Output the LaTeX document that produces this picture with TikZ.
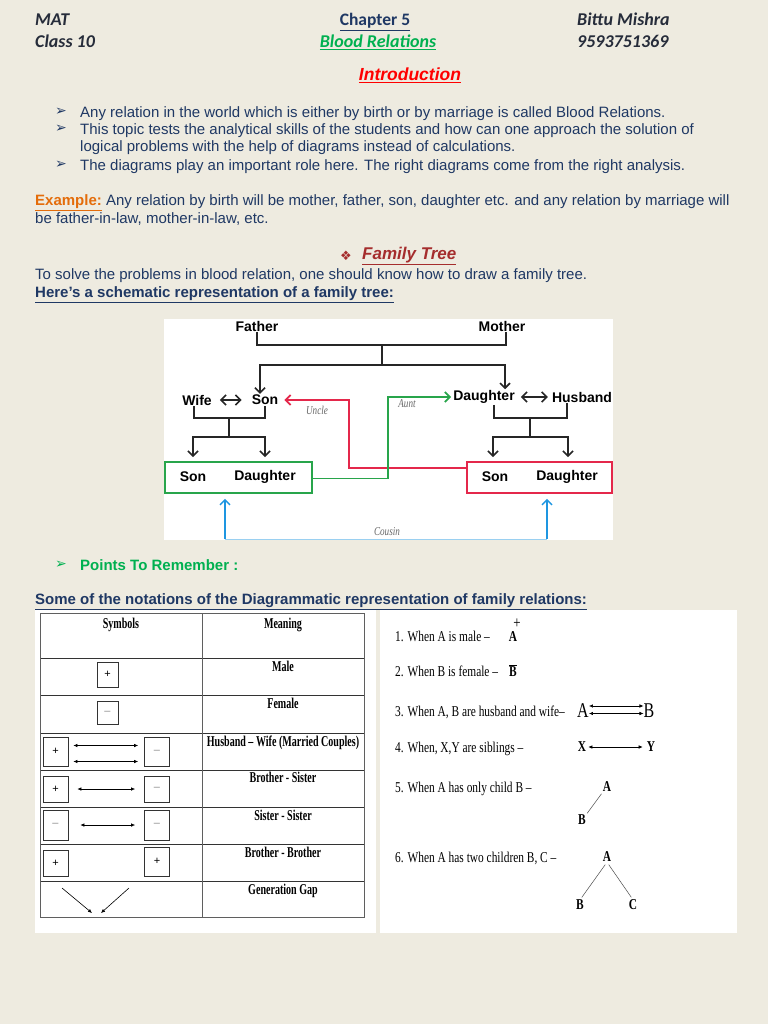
\documentclass[tikz,border=0pt]{standalone}
\usepackage{fontspec}
\usepackage{xcolor}
\usepackage{tikz}
\usetikzlibrary{arrows.meta,positioning,calc}
\setmainfont{Liberation Sans}
\newfontfamily\hdfont{Carlito}
\newfontfamily\tabfont[FakeStretch=0.67]{Liberation Serif}
\newfontfamily\notefont[FakeStretch=0.76]{Liberation Serif}
\newfontfamily\symfont{DejaVu Sans}
\definecolor{pagebg}{RGB}{238,235,224}
\definecolor{navy}{RGB}{31,56,100}
\definecolor{inkgrey}{RGB}{38,44,58}
\definecolor{leafgreen}{RGB}{0,176,80}
\definecolor{hotred}{RGB}{255,0,0}
\definecolor{exorange}{RGB}{228,108,10}
\definecolor{treered}{RGB}{165,45,45}
\definecolor{boxgreen}{RGB}{40,165,75}
\definecolor{boxred}{RGB}{228,40,75}
\definecolor{cousinblue}{RGB}{30,150,225}
\definecolor{gridgrey}{RGB}{95,95,95}
\tikzset{
  hd/.style={anchor=mid west,inner sep=0,yshift=-3pt,text=inkgrey,
             font=\hdfont\bfseries\itshape\fontsize{18}{20}\selectfont},
  body/.style={anchor=mid west,inner sep=0,yshift=-3pt,text=navy,font=\fontsize{15}{17}\selectfont},
  bodyb/.style={body,font=\bfseries\fontsize{15}{17}\selectfont},
  bulletmk/.style={inner sep=0,text=navy,font=\symfont\fontsize{14}{14}\selectfont},
  tname/.style={inner sep=1pt,font=\bfseries\fontsize{14}{16}\selectfont},
  tline/.style={line width=1.6pt,draw=black!85},
  tarr/.style={tline,-{Straight Barb[length=5pt,width=10pt]}},
  tdbl/.style={tline,{Straight Barb[length=5pt,width=10pt]}-{Straight Barb[length=5pt,width=10pt]}},
  kinbox/.style={line width=1.8pt,minimum height=31pt},
  kinarr/.style={line width=1.8pt,-{Straight Barb[length=5pt,width=10pt]}},
  rel/.style={inner sep=0,text=black!60,font=\notefont\itshape\fontsize{12}{14}\selectfont},
  tabtxt/.style={inner sep=0,anchor=mid,yshift=-3pt,font=\tabfont\bfseries\fontsize{15}{17}\selectfont},
  symbox/.style={draw=black!80,line width=0.7pt,inner sep=0,minimum width=25pt,
                 font=\fontsize{11}{11}\selectfont},
  smarr/.style={line width=0.6pt,{Latex[length=4pt,width=3.5pt]}-{Latex[length=4pt,width=3.5pt]}},
  note/.style={anchor=mid west,inner sep=0,yshift=-3pt,font=\notefont\fontsize{15}{17}\selectfont},
  notel/.style={inner sep=0,font=\notefont\bfseries\fontsize{15}{17}\selectfont},
}

\begin{document}
\begin{tikzpicture}[x=1pt,y=-1pt]

  % --- page -----------------------------------------------------------------
  \fill[pagebg] (0,0) rectangle (768,1024);
  \useasboundingbox (0,0) rectangle (768,1024);
  \fill[white] (164,319) rectangle (613,540);
  \fill[white] (35,610) rectangle (376,933);
  \fill[white] (380,610) rectangle (737,933);

  % --- header ---------------------------------------------------------------
  \node[hd] (hdmat) at (35,20) {MAT};
  \node[hd] (hdcls) at (35,42) {Class 10};
  \node[hd,anchor=mid,text=navy,font=\hdfont\bfseries\fontsize{17.5}{20}\selectfont]
        (hdchap) at (375,20) {\underline{Chapter 5}};
  \node[hd,anchor=mid,text=leafgreen] (hdtopic) at (378,42) {\underline{Blood Relations}};
  \node[hd] (hdname) at (577,20) {Bittu Mishra};
  \node[hd] (hdphone) at (577,42) {9593751369};

  \node[text=hotred,inner sep=0,yshift=-1pt,font=\bfseries\itshape\fontsize{17.5}{20}\selectfont]
        (intro) at (410,74) {\underline{Introduction}};

  % --- bullets --------------------------------------------------------------
  \node[bulletmk] (mk1) at (61,112) {➢};
  \node[body] (bl1) at (80,112)
        {Any relation in the world which is either by birth or by marriage is called Blood Relations.};
  \node[bulletmk] (mk2) at (61,129) {➢};
  \node[body] (bl2) at (80,129)
        {This topic tests the analytical skills of the students and how can one approach the solution of};
  \node[body] (bl2b) at (80,146)
        {logical problems with the help of diagrams instead of calculations.};
  \node[bulletmk] (mk3) at (61,165) {➢};
  \node[body] (bl3) at (80,165)
        {The diagrams play an important role here. The right diagrams come from the right analysis.};

  \node[body] (ex1) at (35,200)
        {\textcolor{exorange}{\bfseries\underline{Example:}} Any relation by birth will be mother, father, son, daughter etc. and any relation by marriage will};
  \node[body] (ex2) at (35,218) {be father-in-law, mother-in-law, etc.};

  \node[inner sep=0,text=treered,font=\symfont\fontsize{13}{13}\selectfont] (ftstar) at (346,256) {❖};
  \node[anchor=mid west,inner sep=0,yshift=-2pt,text=treered,font=\bfseries\itshape\fontsize{17}{19}\selectfont]
        (fttitle) at (362,255) {\underline{Family Tree}};
  \node[body] (ftline) at (35,274)
        {To solve the problems in blood relation, one should know how to draw a family tree.};
  \node[bodyb] (fthere) at (35,292) {\underline{Here’s a schematic representation of a family tree:}};

  % --- family tree ----------------------------------------------------------
  \node[tname] (fa)  at (257,326) {Father};
  \node[tname] (mo)  at (502,326) {Mother};
  \node[tname] (wife) at (197,400) {Wife};
  \node[tname] (son) at (265,400) {Son};
  \node[tname] (dau) at (484,397) {Daughter};
  \node[tname] (hus) at (582,397) {Husband};

  \coordinate (ftop) at (382,345);
  \coordinate (fsplit) at (382,365);
  \draw[tline] (fa.south) |- (ftop) -| ([xshift=4pt]mo.south);
  \draw[tline] (ftop) -- (fsplit);
  \draw[tarr] (fsplit) -| ([xshift=-5pt]son.north);
  \draw[tarr] (fsplit) -| ([xshift=21pt]dau.north);
  \draw[tdbl,shorten <=7pt,shorten >=9pt] (wife.east) -- (son.west);
  \draw[tdbl,shorten <=5pt,shorten >=3pt] (dau.east) -- (hus.west);

  \node[kinbox,draw=boxgreen,minimum width=147pt] (gbox) at (238.5,477.5) {};
  \node[kinbox,draw=boxred,minimum width=145pt] (rbox) at (539.5,477.5) {};
  \node[tname] (gson) at (193,477) {Son};
  \node[tname] (gdau) at (265,477) {Daughter};
  \node[tname] (rson) at (495,477) {Son};
  \node[tname] (rdau) at (567,477) {Daughter};

  % children of son and wife
  \coordinate (lj) at (229,418);
  \coordinate (ls) at (229,437);
  \draw[tline] ([xshift=-3pt]wife.south) |- (lj) -| (son.south);
  \draw[tline] (lj) -- (ls);
  \draw[tarr,shorten >=4pt] (ls) -| (gbox.north -| gson);
  \draw[tarr,shorten >=4pt] (ls) -| (gbox.north -| gdau);
  % children of daughter and husband
  \coordinate (rj) at (530,418);
  \coordinate (rs) at (530,437);
  \draw[tline] ([xshift=10pt]dau.south) |- (rj) -| ([xshift=-15pt]hus.south);
  \draw[tline] (rj) -- (rs);
  \draw[tarr,shorten >=4pt] (rs) -| ([xshift=-2pt]rbox.north -| rson);
  \draw[tarr,shorten >=4pt] (rs) -| ([xshift=1pt]rbox.north -| rdau);

  % uncle, aunt, cousin
  \coordinate (uc) at (349,400);
  \draw[kinarr,draw=boxred,shorten >=5pt] ([yshift=9.5pt]rbox.west) -| (uc) -- (son.east);
  \coordinate (ac) at (388,397);
  \draw[kinarr,draw=boxgreen,shorten >=1pt] ([yshift=-1pt]gbox.east) -| (ac) -- (dau.west);
  \node[rel] (uncle) at (317,410) {Uncle};
  \node[rel] (aunt) at (407,404) {Aunt};
  \coordinate (cl) at (225,539);
  \coordinate (cr) at (547,539);
  \draw[cousinblue!45,line width=1pt] (cl) -- (cr);
  \draw[kinarr,draw=cousinblue,line width=1.4pt,shorten >=5pt] (cl) -- (gbox.south -| cl);
  \draw[kinarr,draw=cousinblue,line width=1.4pt,shorten >=5pt] (cr) -- (rbox.south -| cr);
  \node[rel] (cousin) at (387,532) {Cousin};

  % --- points to remember ---------------------------------------------------
  \node[bulletmk,text=leafgreen] (mk4) at (61,565) {➢};
  \node[bodyb,text=leafgreen] (ptr) at (80,565) {Points To Remember :};
  \node[bodyb] (notes) at (35,599)
        {\underline{Some of the notations of the Diagrammatic representation of family relations:}};

  % --- symbol table ---------------------------------------------------------
  \foreach \yy in {658,695,733,770,807,844,881}
    \draw[black!80,line width=0.9pt] (40,\yy) -- (364,\yy);
  \draw[gridgrey,line width=0.8pt] (202,613) -- (202,917);
  \draw[gridgrey,line width=1pt] (40,613) rectangle (364,917);

  \node[tabtxt] (hsym) at (121,623) {Symbols};
  \node[tabtxt] (hmean) at (283,623) {Meaning};
  \node[tabtxt] (tmale) at (283,666) {Male};
  \node[tabtxt] (tfem) at (283,703) {Female};
  \node[tabtxt] (thw) at (283,741) {Husband – Wife (Married Couples)};
  \node[tabtxt] (tbs) at (283,777) {Brother - Sister};
  \node[tabtxt] (tss) at (283,815) {Sister - Sister};
  \node[tabtxt] (tbb) at (283,852) {Brother - Brother};
  \node[tabtxt] (tgg) at (283,889) {Generation Gap};

  \node[symbox,minimum width=21pt,minimum height=25pt] (s2) at (107.5,674.5) {+};
  \node[symbox,minimum width=21pt,minimum height=23pt,text=black!45] (s3) at (107.5,712.5) {–};
  \node[symbox,minimum height=29pt] (s41) at (55.5,751.5) {+};
  \node[symbox,minimum height=29pt,text=black!45] (s42) at (157,751.5) {–};
  \node[symbox,minimum height=26pt] (s51) at (55.5,789) {+};
  \node[symbox,minimum height=26pt,text=black!45] (s52) at (157,789) {–};
  \node[symbox,minimum height=30pt,text=black!45] (s61) at (55.5,825) {–};
  \node[symbox,minimum height=30pt,text=black!45] (s62) at (157,825) {–};
  \node[symbox,minimum height=26pt] (s71) at (55.5,863) {+};
  \node[symbox,minimum height=29pt] (s72) at (157,861.5) {+};

  \draw[smarr,shorten <=5pt,shorten >=6pt] ([yshift=6pt]s41.east) -- ([yshift=6pt]s42.west);
  \draw[smarr,shorten <=5pt,shorten >=6pt] ([yshift=-10pt]s41.east) -- ([yshift=-10pt]s42.west);
  \draw[smarr,shorten <=9pt,shorten >=9pt] (s51.east) -- (s52.west);
  \draw[smarr,shorten <=12pt,shorten >=9pt] (s61.east) -- (s62.west);
  \draw[line width=0.6pt,-{Latex[length=4pt,width=3.5pt]}] (62,888) -- (92,913);
  \draw[line width=0.6pt,-{Latex[length=4pt,width=3.5pt]}] (129,888) -- (101,913);

  % --- notation list --------------------------------------------------------
  \node[note] (n1) at (395,636) {1. When A is male –};
  \node[notel] (a1) at (513,637) {A};
  \node[inner sep=0,font=\notefont\fontsize{17}{17}\selectfont] (p1) at (517,624) {+};
  \node[note] (n2) at (395,671) {2. When B is female –};
  \node[notel] (b2) at (513,671) {$\overline{\textbf{B}}$};
  \node[note] (n3) at (395,711) {3. When A, B are husband and wife–};
  \node[inner sep=0,font=\notefont\fontsize{21}{21}\selectfont] (a3) at (583,711) {A};
  \node[inner sep=0,font=\notefont\fontsize{21}{21}\selectfont] (b3) at (649,711) {B};
  \draw[smarr] ([yshift=5pt]a3.east) -- ([yshift=5pt]b3.west);
  \draw[smarr] ([yshift=-2.5pt]a3.east) -- ([yshift=-2.5pt]b3.west);
  \node[note] (n4) at (395,747) {4. When, X,Y are siblings –};
  \node[notel] (x4) at (582,747) {X};
  \node[notel] (y4) at (651,747) {Y};
  \draw[smarr,shorten <=2pt,shorten >=4pt] (x4.east) -- (y4.west);
  \node[note] (n5) at (395,787) {5. When A has only child B –};
  \node[notel] (a5) at (607,787) {A};
  \node[notel] (b5) at (582,820) {B};
  \draw[line width=0.5pt,black!70,shorten <=2pt,shorten >=2pt] (a5.south west) -- (b5.north east);
  \node[note] (n6) at (395,857) {6. When A has two children B, C –};
  \node[notel] (a6) at (607,857) {A};
  \node[notel] (b6) at (580,905) {B};
  \node[notel] (c6) at (633,905) {C};
  \draw[line width=0.5pt,black!70,shorten <=3pt,shorten >=3pt] (a6.south) -- (b6.north);
  \draw[line width=0.5pt,black!70,shorten <=3pt,shorten >=3pt] (a6.south) -- (c6.north);

\end{tikzpicture}
\end{document}
